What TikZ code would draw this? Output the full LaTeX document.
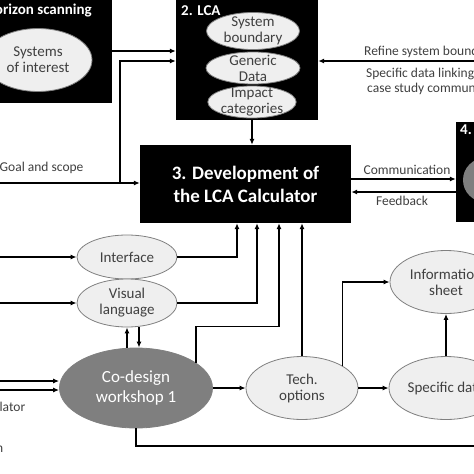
\documentclass[tikz,border=0pt]{standalone}
\usepackage{fontspec}
\setmainfont{Carlito}
\usetikzlibrary{shapes.geometric,arrows.meta}
\definecolor{lightfill}{HTML}{EFEFEF}
\definecolor{darkfill}{HTML}{7F7F7F}
\definecolor{labeltext}{HTML}{404040}
\tikzset{
  stage/.style = {fill = black, draw = none, inner sep = 0pt},
  stagetitle/.style = {text = white, font = \fontsize{15}{17}\selectfont\bfseries, inner sep = 0pt},
  item/.style = {ellipse, draw = gray, fill = lightfill, line width = 0.8pt, align = center,
    inner xsep = 0pt, inner ysep = -6pt, text = labeltext, font = \fontsize{15}{16}\selectfont},
  lab/.style = {text = labeltext, font = \fontsize{13.5}{15}\selectfont, inner sep = 0pt},
  flow/.style = {line width = 1.5pt, -{Latex[length = 6pt, width = 5pt]}},
  link/.style = {line width = 1.5pt},
}

\begin{document}
\begin{tikzpicture}[x = 1pt, y = -1pt]
    \useasboundingbox (0,0) rectangle (474,474);
    \fill[white] (0,0) rectangle (474,474);

    \node[stage, minimum width = 172pt, minimum height = 104pt] (horizon) at (26,51) {};
    \node[stagetitle, anchor = east] (horizontitle) at (92,11) {1. Horizon scanning};
    \node[item, minimum width = 108pt, minimum height = 63pt] (systems) at (38,60) {Systems\\of interest};

    \node[stage, minimum width = 142pt, minimum height = 122pt] (lca) at (247,59) {};
    \node[stagetitle, anchor = west] (lcatitle) at (181,11) {2. LCA};
    \node[item, minimum width = 93pt, minimum height = 37pt] (boundary) at (253,31) {System\\boundary};
    \node[item, minimum width = 94pt, minimum height = 32pt] (generic) at (253,68) {Generic\\Data};
    \node[item, minimum width = 86pt, minimum height = 32pt] (impact) at (252,102) {Impact\\categories};

    \node[stage, minimum width = 211pt, minimum height = 78pt, text = white, align = center,
        font = \fontsize{19}{23}\selectfont\bfseries] (calc) at (245.5,184) {3. Development of\\the LCA Calculator};

    \node[stage, minimum width = 60pt, minimum height = 100pt] (share) at (486,172) {};
    \node[stagetitle, anchor = west] (sharetitle) at (460,130) {4.};
    \node[circle, fill = darkfill, minimum size = 44pt, inner sep = 0pt] (sharedot) at (485,180) {};

    \node[item, minimum width = 100pt, minimum height = 44pt] (interface) at (127,257) {Interface};
    \node[item, minimum width = 100pt, minimum height = 48pt] (visual) at (127,303) {Visual\\language};
    \node[item, minimum width = 153pt, minimum height = 80pt, fill = darkfill, text = white,
        font = \fontsize{17}{20}\selectfont] (codesign) at (136,388) {Co-design\\workshop 1};
    \node[item, minimum width = 112pt, minimum height = 63pt] (tech) at (302,388) {Tech.\\options};
    \node[item, minimum width = 114pt, minimum height = 63pt] (specific) at (446,388) {Specific data};
    \node[item, minimum width = 112pt, minimum height = 63pt] (info) at (446,282) {Information\\sheet};

    \node[lab, anchor = west] (goallab) at (-0.5,168) {Goal and scope};
    \node[lab, anchor = west] (refinelab) at (364,52) {Refine system boundary};
    \node[lab, anchor = west] (speclab) at (366,74) {Specific data linking};
    \node[lab, anchor = west] (caselab) at (367,89) {case study communities};
    \node[lab] (commlab) at (407,170) {Communication};
    \node[lab] (feedlab) at (402,201) {Feedback};
    \node[lab, anchor = east] (calclab) at (25.5,407) {Calculator};
    \node[lab, anchor = east] (nlab) at (3.5,449) {n};

    \coordinate (goalin) at (-5,183);
    \coordinate (goalup) at (120,183);
    \coordinate (refinein) at (480,61);
    \coordinate (ifin) at (-5,257);
    \coordinate (visin) at (-5,303);
    \coordinate (cdin1) at (-5,381);
    \coordinate (cdin2) at (-5,390);
    \coordinate (cdout) at (480,446);

    \draw[flow] (goalin) -- (goalin -| calc.west);
    \draw[flow] (goalup) |- ([yshift = -2pt]lca.west);
    \draw[flow] (horizon.east) -- (horizon.east -| lca.west);
    \draw[flow] (refinein) -- (refinein -| lca.east);
    \draw[flow] (impact |- lca.south) -- (impact |- calc.north);
    \draw[flow] ([yshift = 5pt]calc.east) -- ([yshift = 5pt]calc.east -| share.west);
    \draw[flow] ([yshift = -8pt]calc.east -| share.west) -- ([yshift = -8pt]calc.east);
    \draw[flow] (ifin) -- (interface.west);
    \draw[flow] (visin) -- (visual.west);
    \draw[flow] (interface.east) -| ([xshift = -8.5pt]calc.south);
    \draw[flow] (visual.east) -| ([xshift = 11.5pt]calc.south);
    \draw[flow] (codesign.23) -- ++(0,-36) -| ([xshift = 33.5pt]calc.south);
    \draw[flow] (tech.north) -- (tech.north |- calc.south);
    \draw[flow] ([xshift = -9pt]codesign.north) -- ([xshift = -9pt]codesign.north |- visual.south);
    \draw[flow] ([xshift = 12pt]visual.south) -- ([xshift = 3pt]codesign.north);
    \draw[flow] (cdin1) -- (cdin1 -| codesign.west);
    \draw[flow] (cdin2) -- (cdin2 -| codesign.west);
    \draw[flow] (codesign.east) -- (tech.west);
    \draw[flow] (tech.east) -- (specific.west);
    \draw[flow] (tech.29) |- (info.west);
    \draw[flow] (specific.north) -- (info.south);
    \draw[link] (codesign.south) |- (cdout);
\end{tikzpicture}
\end{document}
